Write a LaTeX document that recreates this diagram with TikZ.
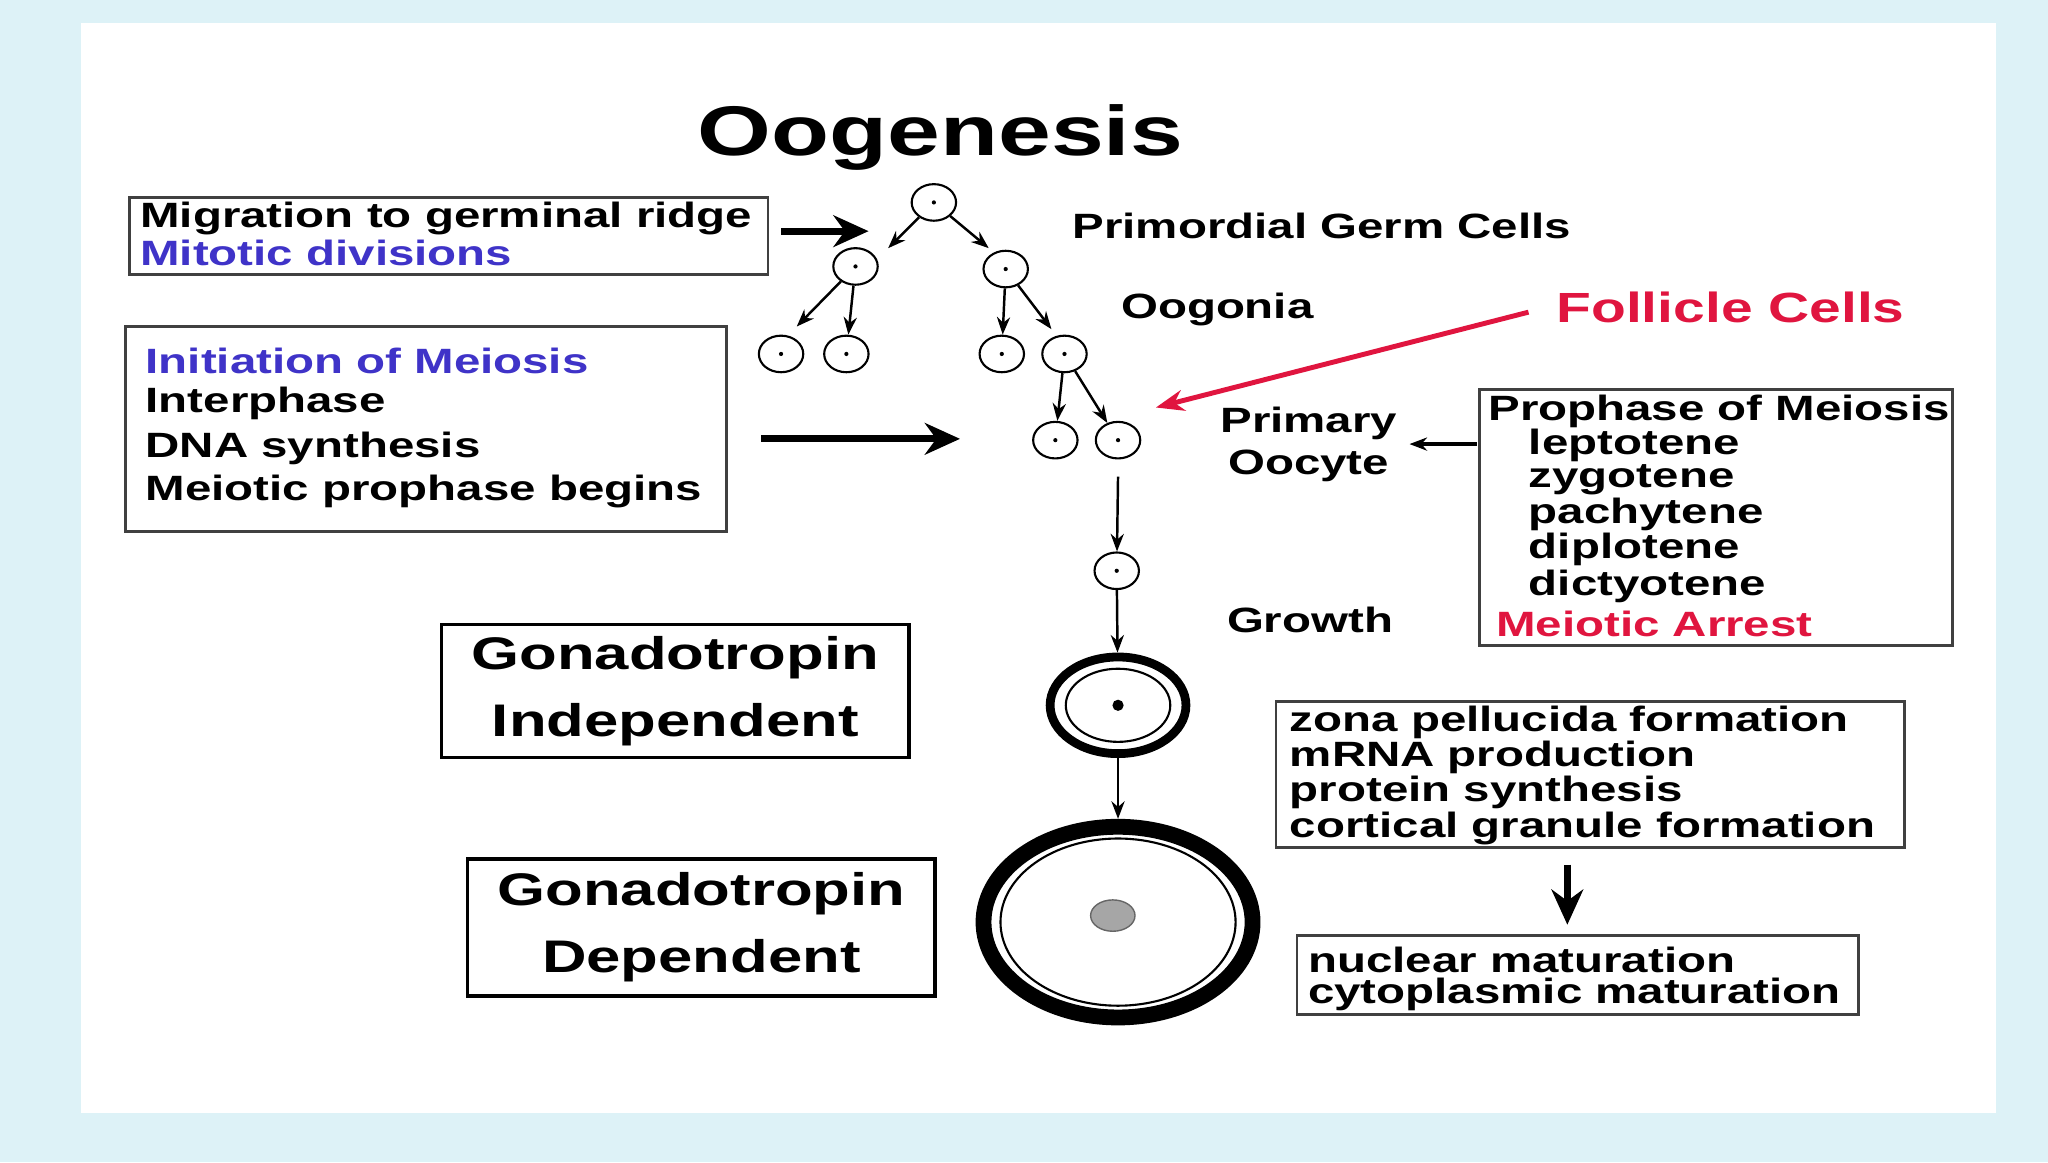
\documentclass[tikz,border=0pt]{standalone}
\usepackage{fontspec}
\setmainfont{Liberation Sans}[FakeStretch=1.35]
\usetikzlibrary{arrows.meta,positioning,shapes.geometric}
\definecolor{bgblue}{HTML}{DDF2F7}
\definecolor{meioblue}{HTML}{3F33C8}
\definecolor{follred}{HTML}{E0153F}
\begin{document}
\begin{tikzpicture}[
    x=0.01306cm, y=-0.01306cm,
    font=\bfseries\fontsize{10}{12}\selectfont,
    box/.style={draw=black!75, line width=0.8pt, inner sep=0pt},
    txt/.style={anchor=west, inner sep=0pt},
    cell/.style={ellipse, draw, line width=0.6pt, minimum width=34*0.01306cm,
      minimum height=28*0.01306cm, inner sep=0pt,
      path picture={\fill (path picture bounding box.center) circle (0.6pt);}},
    sarrow/.style={-{Stealth[length=5pt]}, line width=0.7pt},
    barrow/.style={-{Stealth[length=10pt,width=9pt]}, line width=2pt},
    gono/.style={draw, line width=1pt, align=center, font=\bfseries\fontsize{13}{19}\selectfont}
  ]
  % background
  \fill[bgblue] (0,0) rectangle (1568,890);
  \fill[white] (62,18) rectangle (1528,852);
  \useasboundingbox (0,0) rectangle (1568,890);

  \node[font=\bfseries\fontsize{20}{24}\selectfont] (title) at (720,105) {Oogenesis};

  % left boxes
  \draw[box] (99,151) rectangle (588,210);
  \node[txt] (migr) at (107,167) {Migration to germinal ridge};
  \node[txt, text=meioblue] (mito) at (107,194) {Mitotic divisions};

  \draw[box] (96,250) rectangle (556,407);
  \node[txt, text=meioblue] (init) at (111,276) {Initiation of Meiosis};
  \node[txt] (inter) at (111,309) {Interphase};
  \node[txt] (dna) at (111,343) {DNA synthesis};
  \node[txt] (mprop) at (111,376) {Meiotic prophase begins};

  \node[gono, minimum width=358*0.01306cm, minimum height=102*0.01306cm] (indep) at (517,529) {Gonadotropin\\Independent};
  \node[gono, minimum width=358*0.01306cm, minimum height=105*0.01306cm] (dep) at (537,710) {Gonadotropin\\Dependent};

  % right boxes
  \draw[box] (1133,298) rectangle (1495,494);
  \node[txt] (proph) at (1139,315) {Prophase of Meiosis};
  \node[txt] (lepto) at (1170,341) {leptotene};
  \node[txt] (zygo) at (1170,367) {zygotene};
  \node[txt] (pachy) at (1170,394) {pachytene};
  \node[txt] (diplo) at (1170,421) {diplotene};
  \node[txt] (dicty) at (1170,449) {dictyotene};
  \node[txt, text=follred] (arrest) at (1145,478) {Meiotic Arrest};

  \draw[box] (977,537) rectangle (1458,649);
  \node[txt] (zona) at (987,553) {zona pellucida formation};
  \node[txt] (mrna) at (987,580) {mRNA production};
  \node[txt] (prot) at (987,607) {protein synthesis};
  \node[txt] (cort) at (987,634) {cortical granule formation};

  \draw[box] (993,716) rectangle (1423,777);
  \node[txt] (nucl) at (1001,735) {nuclear maturation};
  \node[txt] (cyto) at (1001,761) {cytoplasmic maturation};
  \coordinate (zonab) at (1200,662);
  \coordinate (nuclt) at (1200,708);

  % stage labels
  \node (pgc) at (1012,173) {Primordial Germ Cells};
  \node (oogo) at (932,237) {Oogonia};
  \node[align=center, font=\bfseries\fontsize{10}{12}\selectfont] (prim) at (1002,340) {Primary\\Oocyte};
  \node (growth) at (1003,475) {Growth};
  \node[text=follred, font=\bfseries\fontsize{12}{14}\selectfont] (foll) at (1325,235) {Follicle Cells};

  % cells
  \node[cell] (c0) at (715,155) {};
  \node[cell] (c1) at (655,204) {};
  \node[cell] (c2) at (770,206) {};
  \node[cell] (c3) at (598,271) {};
  \node[cell] (c4) at (648,271) {};
  \node[cell] (c5) at (767,271) {};
  \node[cell] (c6) at (815,271) {};
  \node[cell] (c7) at (808,337) {};
  \node[cell] (c8) at (856,337) {};
  \node[cell] (c9) at (855,437) {};
  \node[ellipse, draw, line width=2.5pt, minimum width=104*0.01306cm, minimum height=74*0.01306cm] (grow) at (856,540) {};
  \draw[line width=0.6pt] (grow.center) ellipse [x radius=40, y radius=28];
  \fill (grow.center) circle (1.6pt);
  \node[ellipse, draw, line width=4.5pt, minimum width=206*0.01306cm, minimum height=146*0.01306cm] (big) at (856,706) {};
  \draw[line width=0.6pt] (big.center) ellipse [x radius=90, y radius=64];
  \node[ellipse, draw=black!60, fill=black!35, minimum width=34*0.01306cm, minimum height=24*0.01306cm, inner sep=0pt] (nuc) at (852,701) {};

  % arrows
  \draw[barrow] (598,177) -- (665,177);
  \draw[barrow] (583,336) -- (735,336);
  \draw[sarrow, line width=1.2pt] (proph.west |- prim.east) ++(-8,0) -- (prim.east);
  \draw[barrow] (zonab) -- (nuclt);
  \draw[follred, -{Stealth[length=8pt]}, line width=1.4pt] (foll.west) ++(-12,4) -- (885,312);

  \draw[sarrow] (c0) -- (680,190);
  \draw[sarrow] (c0) -- (757,190);
  \draw[sarrow] (c1) -- (610,250);
  \draw[sarrow] (c1) -- (c4);
  \draw[sarrow] (c2) -- (c5);
  \draw[sarrow] (c2) -- (805,252);
  \draw[sarrow] (c6) -- (c8);
  \draw[sarrow] (c6) -- (c7);
  \draw[sarrow] (c8) ++(0,28) -- (c9);
  \draw[sarrow] (c9) -- (grow);
  \draw[sarrow] (grow) -- (big);
\end{tikzpicture}
\end{document}
